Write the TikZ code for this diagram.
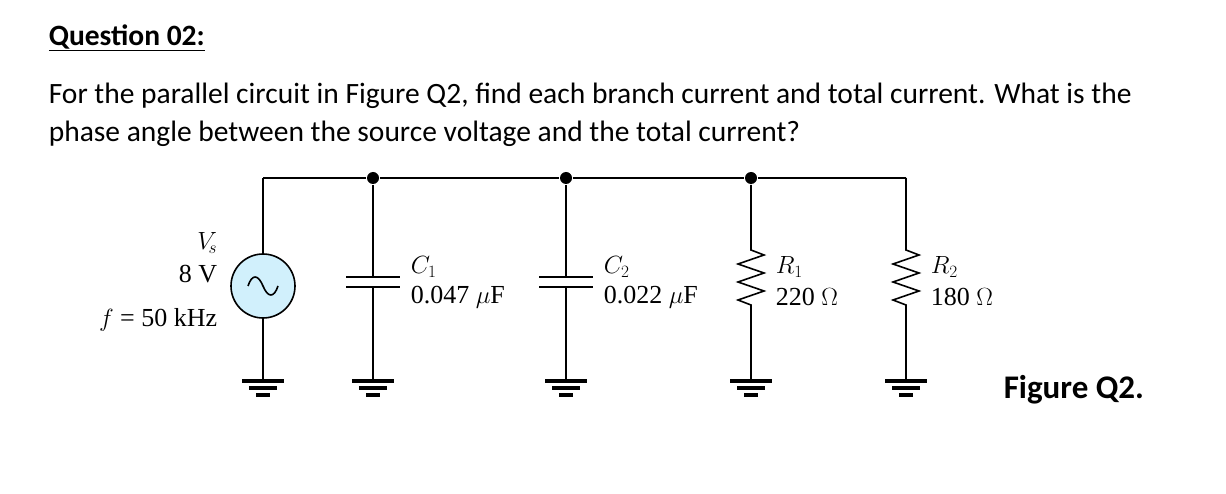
\documentclass[tikz,border=0pt]{standalone}
\usepackage{fontspec}
\setmainfont{Carlito}
\newfontfamily\ser{Liberation Serif}
\usetikzlibrary{calc}
\begin{document}
\begin{tikzpicture}[x=1pt,y=-1pt,line width=1.6pt,
 dot/.style={circle,fill,inner sep=0pt,minimum size=12pt},
 lab/.style={font=\ser\fontsize{26}{30}\selectfont,inner sep=0pt,anchor=west,align=left},
 txt/.style={font=\fontsize{29.5}{34}\selectfont,inner sep=0pt,anchor=west}]
\useasboundingbox (0,0) rectangle (1226,494);
\newcommand\gnd[1]{\draw[line width=3.5pt] ($(#1)+(-21,0)$) -- ++(42,0) ($(#1)+(-14,7)$) -- ++(28,0) ($(#1)+(-7,14)$) -- ++(14,0);}
\node[txt,font=\bfseries\fontsize{29.5}{34}\selectfont] (q) at (48,38) {\underline{Question 02:}};
\node[txt] (l1) at (48,96) {For the parallel circuit in Figure Q2, find each branch current and total current. What is the};
\node[txt] (l2) at (48,134) {phase angle between the source voltage and the total current?};
\node[txt,font=\bfseries\fontsize{33}{38}\selectfont] (fig) at (1003,390) {Figure Q2.};
\coordinate (ts) at (263,178); \coordinate (t4) at (906,178);
\node[dot] (d1) at (373,178) {}; \node[dot] (d2) at (566,178) {}; \node[dot] (d3) at (751,178) {};
\node[circle,draw,fill=cyan!18,minimum size=64pt,inner sep=0pt] (src) at (263,286) {};
\draw (248,286) .. controls (252,274) and (258,274) .. (263,286) .. controls (268,298) and (274,298) .. (278,286);
\coordinate (g0) at (263,381); \coordinate (g1) at (373,381); \coordinate (g2) at (566,381); \coordinate (g3) at (751,381); \coordinate (g4) at (906,381);
\draw (ts) -- (d1) -- (d2) -- (d3) -- (t4);
\draw (ts) -- (src.north); \draw (src.south) -- (g0);
\foreach \x/\d/\g in {373/d1/g1,566/d2/g2}{
 \draw (\d) -- (\x,277) (\x,287) -- (\g);
 \draw[line width=2.8pt] (\x-27,277) -- (\x+27,277) (\x-27,287) -- (\x+27,287);}
\foreach \x/\t/\g in {751/d3/g3,906/t4/g4}{
 \draw (\t) -- (\x,250) -- (\x+13,255) -- (\x-13,264) -- (\x+13,273) -- (\x-13,282) -- (\x+13,291) -- (\x-13,300) -- (\x,305) -- (\g);}
\foreach \g in {g0,g1,g2,g3,g4}{\gnd{\g}}
\node[lab,anchor=east] (vs) at (218,243) {$V_{\!s}$};
\node[lab,anchor=east] (v8) at (218,274) {8 V};
\node[lab,anchor=east] (f) at (218,320) {$f$ = 50 kHz};
\node[lab] (c1) at (410,267) {$C_1$};
\node[lab] (c1v) at (410,297) {0.047 $\mu$F};
\node[lab] (c2) at (603,267) {$C_2$};
\node[lab] (c2v) at (603,297) {0.022 $\mu$F};
\node[lab] (r1) at (775,267) {$R_1$};
\node[lab] (r1v) at (775,297) {220 $\Omega$};
\node[lab] (r2) at (930,267) {$R_2$};
\node[lab] (r2v) at (930,297) {180 $\Omega$};
\end{tikzpicture}
\end{document}
